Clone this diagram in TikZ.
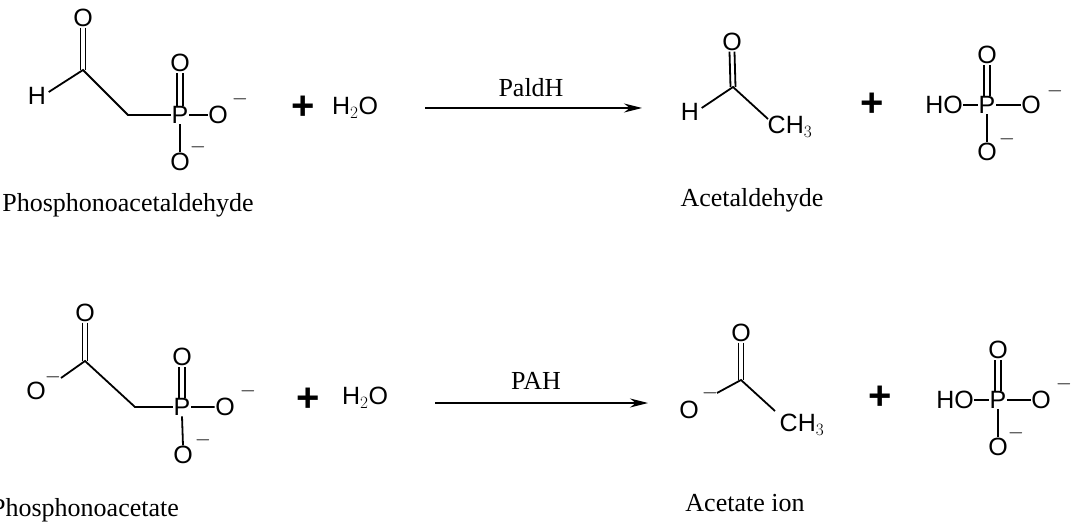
\documentclass[tikz,border=0pt]{standalone}
\usepackage{fontspec}
\setmainfont{Liberation Serif}
\newfontfamily\atomfont{Liberation Sans}
\usetikzlibrary{arrows.meta}
\begin{document}
\begin{tikzpicture}[x=1pt,y=-1pt,
  atom/.style={font=\atomfont\fontsize{25}{25}\selectfont,inner sep=0.5pt},
  chg/.style={font=\atomfont\fontsize{22}{22}\selectfont,inner sep=0pt},
  lbl/.style={font=\fontsize{26}{26}\selectfont},
  bond/.style={line width=1.8pt},
  plus/.style={font=\atomfont\bfseries\fontsize{40}{40}\selectfont},
  rxn/.style={line width=1.3pt,-{Stealth[length=18pt,width=9pt]}}]
\useasboundingbox (0,0) rectangle (1072,532);
% ---------- top row ----------
\node[atom] (o1) at (83,18) {O};
\coordinate (c1) at (83,70);
\node[atom] (h1) at (37,96) {H};
\coordinate (m1) at (128,115);
\node[atom] (p1) at (180,115) {P};
\node[atom] (p1t) at (180,63) {O};
\node[atom] (p1r) at (218,115) {O};
\node[atom] (p1b) at (180,162) {O};
\node[chg] at (240,99) {$-$};
\node[chg] at (198,147) {$-$};
\draw[bond] ([xshift=-2.5pt]o1.south) -- ([xshift=-2.5pt]c1) ([xshift=2.5pt]o1.south) -- ([xshift=2.5pt]c1);
\draw[bond] (h1.east) ++(2,-4) -- (c1) -- (m1) -- (p1.west);
\draw[bond] ([xshift=-3pt]p1.north) -- ([xshift=-3pt]p1t.south) ([xshift=3pt]p1.north) -- ([xshift=3pt]p1t.south);
\draw[bond] (p1.east) -- (p1r.west) (p1.south) -- (p1b.north);
\node[plus] (pl1) at (303,108) {+};
\node[atom] (w1) at (355,108) {H$_2$O};
\node[lbl] at (128,205) {Phosphonoacetaldehyde};
\coordinate (a1s) at (425,108); \coordinate (a1e) at (642,108);
\draw[rxn] (a1s) -- (a1e);
\node[lbl] at (531,88) {PaldH};
\node[atom] (o2) at (732,42) {O};
\coordinate (c2) at (733,87);
\node[atom] (h2) at (690,112) {H};
\node[atom,anchor=west] (ch1) at (767,127) {CH$_3$};
\draw[bond] ([xshift=-2.5pt]o2.south) -- ([xshift=-2.5pt]c2) ([xshift=2.5pt]o2.south) -- ([xshift=2.5pt]c2);
\draw[bond] (h2.east) ++(2,-4) -- (c2) -- (768,119);
\node[lbl] at (752,200) {Acetaldehyde};
\node[plus] (pl2) at (872,105) {+};
\node[atom] (ho1) at (944,105) {HO};
\node[atom] (p2) at (987,105) {P};
\node[atom] (p2t) at (987,55) {O};
\node[atom] (p2r) at (1031,105) {O};
\node[atom] (p2b) at (987,152) {O};
\node[chg] at (1055,91) {$-$};
\node[chg] at (1007,139) {$-$};
\draw[bond] (ho1.east) -- (p2.west) (p2.east) -- (p2r.west) (p2.south) -- (p2b.north);
\draw[bond] ([xshift=-3pt]p2.north) -- ([xshift=-3pt]p2t.south) ([xshift=3pt]p2.north) -- ([xshift=3pt]p2t.south);
% ---------- bottom row ----------
\node[atom] (o3) at (85,313) {O};
\coordinate (c3) at (85,361);
\node[atom] (o3l) at (36,391) {O};
\node[chg] at (53,377) {$-$};
\coordinate (m3) at (135,407);
\node[atom] (p3) at (182,407) {P};
\node[atom] (p3t) at (182,357) {O};
\node[atom] (p3r) at (225,407) {O};
\node[atom] (p3b) at (183,455) {O};
\node[chg] at (248,391) {$-$};
\node[chg] at (203,440) {$-$};
\draw[bond] ([xshift=-2.5pt]o3.south) -- ([xshift=-2.5pt]c3) ([xshift=2.5pt]o3.south) -- ([xshift=2.5pt]c3);
\draw[bond] (61,378) -- (c3) -- (m3) -- (p3.west);
\draw[bond] ([xshift=-3pt]p3.north) -- ([xshift=-3pt]p3t.south) ([xshift=3pt]p3.north) -- ([xshift=3pt]p3t.south);
\draw[bond] (p3.east) -- (p3r.west) (p3.south) -- (p3b.north);
\node[plus] (pl3) at (308,400) {+};
\node[atom] (w2) at (365,398) {H$_2$O};
\node[lbl] at (85,510) {Phosphonoacetate};
\coordinate (a2s) at (435,403); \coordinate (a2e) at (648,403);
\draw[rxn] (a2s) -- (a2e);
\node[lbl] at (536,381) {PAH};
\node[atom] (o4) at (741,333) {O};
\coordinate (c4) at (741,380);
\node[atom] (o4l) at (689,410) {O};
\node[chg] at (710,393) {$-$};
\node[atom,anchor=west] (ch2) at (779,425) {CH$_3$};
\draw[bond] ([xshift=-2.5pt]o4.south) -- ([xshift=-2.5pt]c4) ([xshift=2.5pt]o4.south) -- ([xshift=2.5pt]c4);
\draw[bond] (717,393) -- (c4) -- (775,411);
\node[lbl] at (745,503) {Acetate ion};
\node[plus] (pl4) at (880,398) {+};
\node[atom] (ho2) at (955,400) {HO};
\node[atom] (p4) at (998,400) {P};
\node[atom] (p4t) at (998,350) {O};
\node[atom] (p4r) at (1041,400) {O};
\node[atom] (p4b) at (998,447) {O};
\node[chg] at (1064,384) {$-$};
\node[chg] at (1016,433) {$-$};
\draw[bond] (ho2.east) -- (p4.west) (p4.east) -- (p4r.west) (p4.south) -- (p4b.north);
\draw[bond] ([xshift=-3pt]p4.north) -- ([xshift=-3pt]p4t.south) ([xshift=3pt]p4.north) -- ([xshift=3pt]p4t.south);
\end{tikzpicture}
\end{document}
